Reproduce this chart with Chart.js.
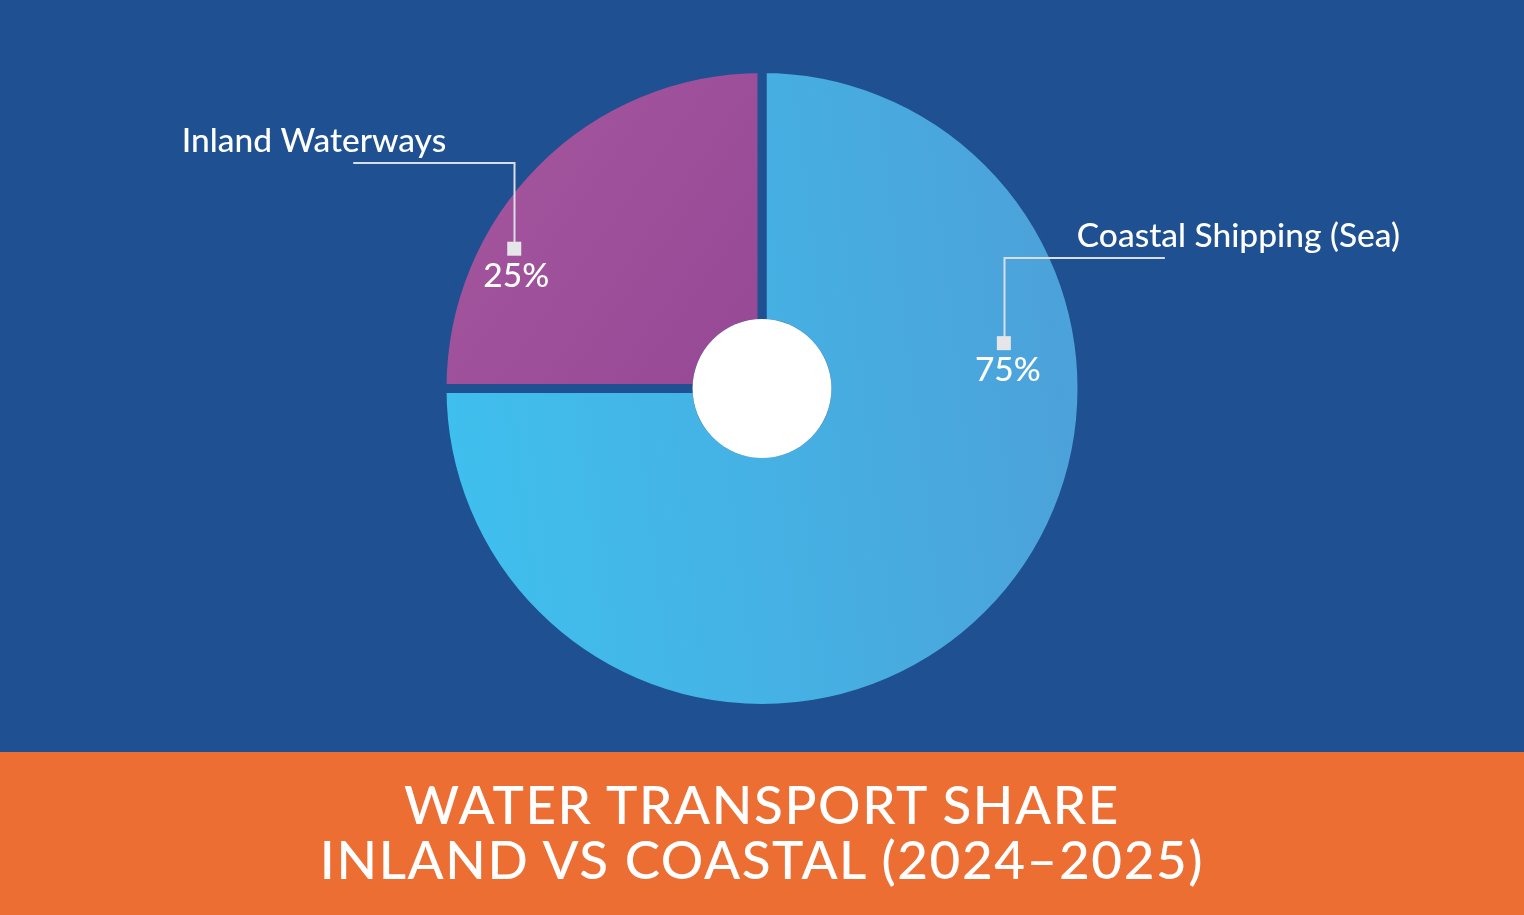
<!DOCTYPE html>
<html>
<head>
<meta charset="utf-8">
<title>Water Transport Share</title>
<script src="https://cdn.jsdelivr.net/npm/chart.js@4.4.1/dist/chart.umd.min.js"></script>
<style>
    html, body { margin: 0; padding: 0; }
    body { width: 1524px; height: 915px; overflow: hidden; background: #1f5091; font-family: Lato, 'Open Sans', sans-serif; }
    #chartBox { position: relative; width: 1524px; height: 752px; }
    #banner {
        height: 163px; background: #ec6e33; color: #fff; text-align: center;
        font-size: 53px; font-weight: 500; letter-spacing: 1.6px; line-height: 55px;
        box-sizing: border-box; padding-top: 24px;
    }
</style>
</head>
<body>
<div id="chartBox"><canvas id="chartPie"></canvas></div>
<div id="banner">WATER TRANSPORT SHARE<br>INLAND VS COASTAL (2024–2025)</div>

<script>
// data
const categorias = ['Coastal Shipping (Sea)', 'Inland Waterways'];
const shares = [75, 25];

// where each callout sits: fraction along the slice, fraction of radius, leader sizes
const calloutLayout = [
    { at: 0.294, r: 0.769, rise: 85, run: 161, align: 'left', tx: -88, pctDx: 4 },
    { at: 0.327, r: 0.889, rise: 86, run: -161, align: 'right', tx: 93, pctDx: 2 }
];

const GAP = 9;

function sliceFill(c) {
    const chart = c.chart;
    const a = chart.chartArea;
    if (!a) return '#45a8e0';
    const ctx = chart.ctx;
    const w = a.right - a.left, h = a.bottom - a.top;
    let g;
    if (c.dataIndex === 0) {
        g = ctx.createLinearGradient(a.left + w * 0.2, a.top + h * 0.62, a.right - w * 0.2, a.top + h * 0.45);
        g.addColorStop(0, '#3cc6f2');
        g.addColorStop(1, '#4f9bd5');
    } else {
        g = ctx.createLinearGradient(a.left + w * 0.2, a.top, a.left + w / 2, a.top + h / 2);
        g.addColorStop(0, '#a95ba0');
        g.addColorStop(1, '#974896');
    }
    return g;
}

// white hub + callouts with leader lines
const calloutPlugin = {
    id: 'callouts',
    afterDatasetsDraw(chart) {
        const ctx = chart.ctx;
        const arcs = chart.getDatasetMeta(0).data;
        ctx.save();

        const hub = arcs[0];
        ctx.beginPath();
        ctx.arc(hub.x, hub.y, hub.innerRadius + GAP / 2, 0, Math.PI * 2);
        ctx.fillStyle = '#ffffff';
        ctx.fill();

        arcs.forEach((arc, i) => {
            const lay = calloutLayout[i];
            const ang = arc.startAngle + lay.at * (arc.endAngle - arc.startAngle);
            const px = arc.x + Math.cos(ang) * arc.outerRadius * lay.r;
            const py = arc.y + Math.sin(ang) * arc.outerRadius * lay.r;
            const ey = py - lay.rise;
            const ex = px + lay.run;

            ctx.strokeStyle = '#d9dde6';
            ctx.lineWidth = 2;
            ctx.beginPath();
            ctx.moveTo(Math.round(px) + 0.5, py);
            ctx.lineTo(Math.round(px) + 0.5, Math.round(ey));
            ctx.lineTo(ex, Math.round(ey));
            ctx.stroke();

            ctx.fillStyle = '#e6e6e8';
            ctx.fillRect(px - 7, py - 7, 14, 14);

            ctx.fillStyle = '#ffffff';
            ctx.font = '500 33.5px Lato, sans-serif';
            ctx.textBaseline = 'alphabetic';
            ctx.textAlign = 'center';
            ctx.fillText(shares[i] + '%', px + lay.pctDx, py + 38);

            ctx.textAlign = lay.align;
            ctx.fillText(categorias[i], ex + lay.tx, ey - 11);
        });
        ctx.restore();
    }
};

new Chart(document.getElementById('chartPie'), {
    type: 'doughnut',
    data: {
        labels: categorias,
        datasets: [{
            data: shares,
            backgroundColor: sliceFill,
            borderColor: '#1f5091',
            borderWidth: GAP,
            borderAlign: 'center'
        }]
    },
    options: {
        responsive: true,
        maintainAspectRatio: false,
        animation: false,
        events: [],
        cutout: '20.3%',
        layout: { padding: { top: 64, bottom: 39, left: 0, right: 0 } },
        plugins: { legend: { display: false }, tooltip: { enabled: false } }
    },
    plugins: [calloutPlugin]
});
</script>
</body>
</html>
